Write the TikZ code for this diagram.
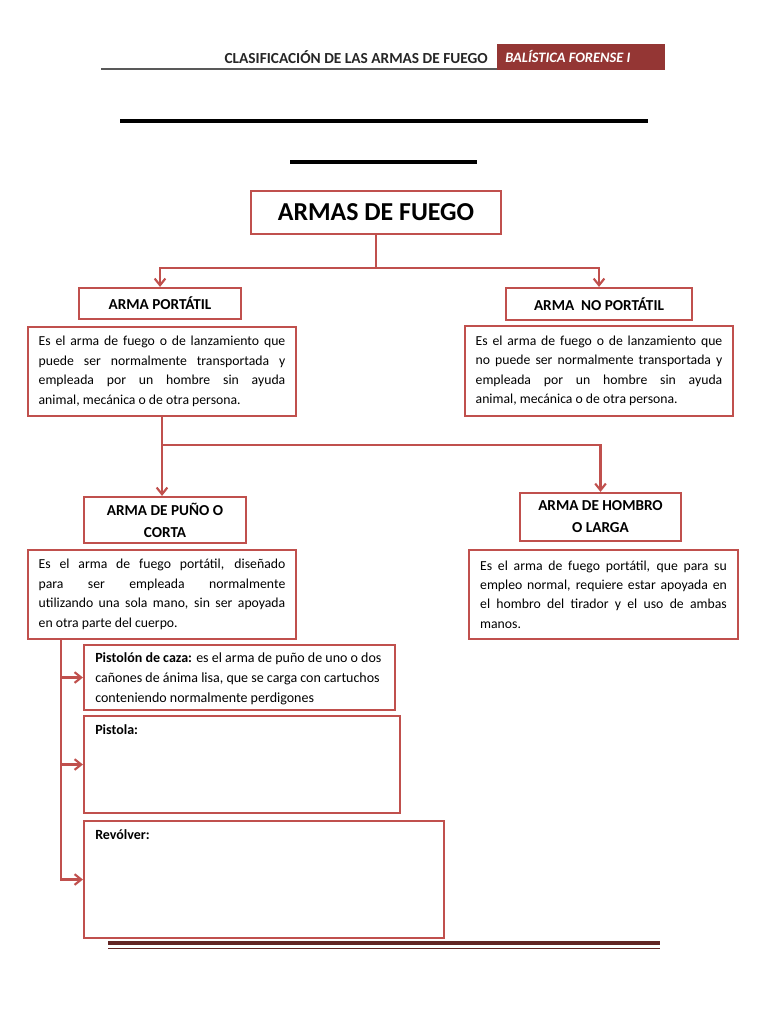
\documentclass[tikz,border=0pt]{standalone}
\usepackage{fontspec}
\setmainfont{Carlito}
\usetikzlibrary{arrows.meta,shadows}
\definecolor{bred}{HTML}{C0504D}
\definecolor{hred}{HTML}{943634}
\definecolor{fred}{HTML}{632523}
\tikzset{
  box/.style={draw=bred, fill=white, line width=1.6pt, rectangle, inner sep=0pt, anchor=center,
    drop shadow={opacity=0.2, shadow xshift=1pt, shadow yshift=-1pt}},
  lbl/.style={font=\fontsize{11.4}{16.5}\selectfont\bfseries, align=center},
  desc/.style={font=\fontsize{10.3}{14.6}\selectfont, align=justify, text width=185pt},
  arr/.style={draw=bred, line width=1.6pt, -{Straight Barb[length=5pt,width=8pt,line width=1.6pt]}},
  conn/.style={draw=bred, line width=1.6pt},
}
\begin{document}
\begin{tikzpicture}[x=0.75pt,y=-0.75pt]
\useasboundingbox (0,0) rectangle (768,1024);
% header
\node[anchor=east, font=\fontsize{11.5}{13}\selectfont\bfseries, text=black!85, inner sep=0pt] (htitle) at (488,57) {CLASIFICACIÓN DE LAS ARMAS DE FUEGO};
\node[fill=hred, minimum width=168*0.75pt, minimum height=26*0.75pt, inner sep=0pt, anchor=center] (hbox) at (581,57) {};
\node[anchor=west, font=\fontsize{10.8}{12}\selectfont\bfseries\itshape, text=white, inner sep=0pt] (hsub) at (505,57) {BALÍSTICA FORENSE I};
\draw[line width=1.5pt, black!65] (101,69.5) -- (hbox.west |- 0,69.5);
% black lines
\draw[line width=2.3pt] (120,121) -- (648,121);
\draw[line width=2.3pt] (290,162) -- (477,162);
% title
\node[box, minimum width=250*0.75pt, minimum height=43*0.75pt, font=\fontsize{19.4}{22}\selectfont\bfseries] (title) at (376,212.5) {ARMAS DE FUEGO};
% level 1
\node[box, minimum width=162*0.75pt, minimum height=31*0.75pt, lbl] (port) at (160,303.5) {ARMA PORTÁTIL};
\node[box, minimum width=186*0.75pt, minimum height=32*0.75pt, lbl] (noport) at (599,304) {ARMA\ \ NO PORTÁTIL};
\node[box, minimum width=268*0.75pt, minimum height=89*0.75pt] (d1) at (162,371.5) {};
\node[desc] (d1t) at (d1.center) {Es el arma de fuego o de lanzamiento que\linebreak puede ser normalmente transportada y\linebreak empleada por un hombre sin ayuda\linebreak animal, mecánica o de otra persona.};
\node[box, minimum width=268*0.75pt, minimum height=90*0.75pt] (d2) at (599,371) {};
\node[desc] (d2t) at (d2.center) {Es el arma de fuego o de lanzamiento que\linebreak no puede ser normalmente transportada y\linebreak empleada por un hombre sin ayuda\linebreak animal, mecánica o de otra persona.};
% level 2
\node[box, minimum width=162*0.75pt, minimum height=46*0.75pt, lbl] (puno) at (165,520) {ARMA DE PUÑO O\\CORTA};
\node[box, minimum width=161*0.75pt, minimum height=48*0.75pt, lbl] (hombro) at (600.5,517) {ARMA DE HOMBRO\\O LARGA};
\node[box, minimum width=268*0.75pt, minimum height=89*0.75pt] (d3) at (162,594.5) {};
\node[desc] (d3t) at (d3.center) {Es el arma de fuego portátil, diseñado\linebreak para ser empleada normalmente\linebreak utilizando una sola mano, sin ser apoyada\linebreak en otra parte del cuerpo.};
\node[box, minimum width=269*0.75pt, minimum height=89*0.75pt] (d4) at (603.5,594.5) {};
\node[desc] (d4t) at (d4.center) {Es el arma de fuego portátil, que para su\linebreak empleo normal, requiere estar apoyada en\linebreak el hombro del tirador y el uso de ambas\linebreak manos.};
% level 3
\node[box, minimum width=311*0.75pt, minimum height=65*0.75pt] (pistolon) at (239.5,677.5) {};
\node[anchor=north west, inner sep=0pt, align=left, font=\fontsize{10.5}{15}\selectfont] (pistolont) at (95,652) {\textbf{Pistolón de caza:} es el arma de puño de uno o dos\\cañones de ánima lisa, que se carga con cartuchos\\conteniendo normalmente perdigones};
\node[box, minimum width=316*0.75pt, minimum height=97*0.75pt] (pistola) at (242,764.5) {};
\node[anchor=north west, inner sep=0pt, font=\fontsize{10.5}{15}\selectfont\bfseries] (pistolat) at (95,724) {Pistola:};
\node[box, minimum width=360*0.75pt, minimum height=117*0.75pt] (revolver) at (264,879.5) {};
\node[anchor=north west, inner sep=0pt, font=\fontsize{10.5}{15}\selectfont\bfseries] (revolvert) at (95,829) {Revólver:};
% connectors
\coordinate (j1) at (376,268);
\draw[conn] (title.south) -- (j1);
\draw[arr] (j1) -| (port.north);
\draw[arr] (j1) -| (noport.north);
\coordinate (j2) at (162,445);
\draw[arr] (d1.south) -- (d1.south |- puno.north);
\draw[arr] (j2) -| (hombro.north);
\coordinate (v0) at (61,639);
\draw[arr] (v0) |- (pistolon.west);
\draw[arr] (v0) |- (pistola.west);
\draw[arr] (v0) |- (revolver.west);
% footer
\draw[line width=3pt, fred] (108,943) -- (660,943);
\draw[line width=1pt, fred] (108,948.5) -- (660,948.5);
\end{tikzpicture}
\end{document}
